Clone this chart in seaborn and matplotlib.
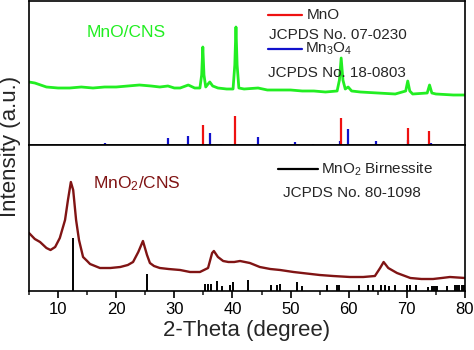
import numpy as np
import pandas as pd
import matplotlib
matplotlib.use("Agg")
import matplotlib.pyplot as plt
import seaborn as sns

# ---------------- data ----------------
mno_theta = [5, 6, 8, 10, 12, 14, 16, 18, 20, 22, 24, 26, 27.5, 28.9, 30, 31, 32.4, 33.5, 34.4,
             34.7, 34.9, 35.1, 35.4, 35.8, 36.1, 36.6, 37.5, 39, 40.1, 40.4, 40.6, 40.8, 41.1,
             42, 44.4, 46, 48, 50, 52, 54, 56, 58.0, 58.4, 58.7, 59.0, 59.4, 59.9, 60.5, 62, 65,
             68, 69.8, 70.15, 70.5, 71, 73.5, 73.9, 74.3, 75, 78, 80]
mno_int = [63, 62, 58, 57, 57, 58, 57, 58, 58, 59, 60, 59, 58, 59, 57, 57, 60, 57, 57,
           70, 98, 70, 58, 61, 63, 59, 57, 56, 56, 80, 118, 80, 57,
           56, 57, 55, 55, 55, 54, 54, 53, 54, 65, 87, 65, 56, 58, 54, 53, 52,
           51, 54, 64, 54, 51, 52, 60, 52, 51, 50, 50]

mno2_theta = [5, 6, 6.9, 8, 8.7, 9.5, 10.3, 11.2, 11.7, 12.2, 12.6, 13.1, 13.6, 14.3, 15.0,
              15.5, 17.2, 19, 20.7, 22.0, 22.9, 23.8, 24.6, 25.3, 25.8, 26.5, 27.5, 29, 31,
              32.7, 34.4, 35.8, 36.5, 36.8, 37.5, 38.4, 39.3, 40.3, 41.3, 43, 44.7, 46.5,
              48.2, 50.5, 52, 55, 57.3, 60.2, 62.5, 64.5, 65.4, 66.0, 66.8, 68.3, 70.6, 72.5,
              74.5, 76, 77.4, 80]
mno2_int = [58, 52, 49, 43, 41, 44, 53, 71, 91, 109, 101, 71, 51, 34, 30,
            27, 23, 23, 24, 26, 29, 39, 50, 36, 28, 25, 23, 22, 21,
            19, 19, 23, 38, 40, 34, 30, 29, 29, 30, 28, 24, 22,
            21, 19, 18, 16, 15, 14, 14, 15, 23, 29, 23, 18, 13, 12,
            12, 13, 14, 13]

ref_mno_pos = [34.9, 40.5, 58.7, 70.2, 73.8]
ref_mno_h = [20, 29, 27, 17, 14]

ref_mn3o4_pos = [18.0, 28.9, 32.4, 36.1, 38.1, 44.4, 50.8, 53.9, 58.5, 59.9, 64.7, 70.2, 74.1]
ref_mn3o4_h = [2, 7, 9, 12, 1, 8, 3, 1, 4, 16, 4, 5, 2]

ref_bir_pos = [12.5, 25.3, 35.3, 35.8, 36.3, 37.3, 38.2, 39.6, 40.1, 42.7, 46.6, 47.7, 48.1,
               51.1, 52.0, 56.3, 58.0, 58.4, 61.7, 63.4, 64.2, 65.6, 66.3, 67.0, 68.0, 70.0,
               70.6, 71.6, 73.7, 74.4, 74.7, 75.0, 75.2, 76.9, 78.3, 78.6, 79.0, 79.4, 79.8]
ref_bir_h = [53, 17, 7, 7, 7, 10, 5, 6, 9, 11, 6, 6, 7,
             9, 5, 6, 6, 6, 6, 6, 6, 6, 6, 5, 6, 6,
             6, 6, 4, 5, 5, 5, 5, 5, 6, 6, 6, 6, 6]

x_ticks = [10, 20, 30, 40, 50, 60, 70, 80]

# ---------------- style ----------------
sns.set_theme(style="white")
plt.rcParams['font.family'] = ['Liberation Sans', 'DejaVu Sans']
plt.rcParams['mathtext.fontset'] = 'custom'
plt.rcParams['mathtext.rm'] = 'Liberation Sans'
plt.rcParams['mathtext.it'] = 'Liberation Sans'
plt.rcParams['mathtext.default'] = 'regular'

GREEN = '#22EE22'
DARKRED = '#801414'
RED = '#EE1111'
BLUE = '#1111CC'

fig = plt.figure(figsize=(4.74, 3.5), dpi=100)
L, R = 29 / 474, 465 / 474
B = (350 - 291) / 350
M = (350 - 145) / 350
T = (350 - 1) / 350
ax_top = fig.add_axes([L, M, R - L, T - M])
ax_bot = fig.add_axes([L, B, R - L, M - B], sharex=ax_top)

df_top = pd.DataFrame({'theta': mno_theta, 'I': mno_int})
df_bot = pd.DataFrame({'theta': mno2_theta, 'I': mno2_int})

sns.lineplot(data=df_top, x='theta', y='I', ax=ax_top, color=GREEN, lw=2.0)
ax_top.vlines(ref_mn3o4_pos, 0, ref_mn3o4_h, colors=BLUE, lw=1.6)
ax_top.vlines(ref_mno_pos, 0, ref_mno_h, colors=RED, lw=1.6)

sns.lineplot(data=df_bot, x='theta', y='I', ax=ax_bot, color=DARKRED, lw=1.7)
ax_bot.vlines(ref_bir_pos, 0, ref_bir_h, colors='black', lw=1.4)

for ax in (ax_top, ax_bot):
    for s in ax.spines.values():
        s.set_color('black')
        s.set_linewidth(1.2)
    ax.set_ylabel('')
    ax.set_xlabel('')
    ax.set_yticks([])

ax_top.set_xlim(5, 80)
ax_top.set_ylim(0, 144)
ax_bot.set_ylim(0, 146)

ax_top.tick_params(axis='x', which='both', bottom=False, labelbottom=False)
ax_bot.set_xticks(x_ticks)
ax_bot.set_xticks([5, 15, 25, 35, 45, 55, 65, 75], minor=True)
ax_bot.tick_params(axis='x', which='major', direction='out', length=5, width=1.2,
                   bottom=True, labelsize=12, pad=3, colors='black')
ax_bot.tick_params(axis='x', which='minor', direction='out', length=3, width=1.2, bottom=True)
ax_bot.set_xlabel('2-Theta (degree)', fontsize=16, labelpad=2)
fig.text(0.022, (350 - 146) / 350, 'Intensity (a.u.)', rotation=90, fontsize=16,
         ha='center', va='center')

# annotations, top panel
ax_top.text(0.133, 0.778, 'MnO/CNS', color=GREEN, fontsize=12.5, transform=ax_top.transAxes,
            ha='left', va='center')
ax_top.plot([0.548, 0.626], [0.903, 0.903], color=RED, lw=1.6, transform=ax_top.transAxes)
ax_top.text(0.636, 0.903, 'MnO', fontsize=11, transform=ax_top.transAxes, ha='left', va='center')
ax_top.text(0.550, 0.764, 'JCPDS No. 07-0230', fontsize=11, transform=ax_top.transAxes,
            ha='left', va='center')
ax_top.plot([0.548, 0.626], [0.667, 0.667], color=BLUE, lw=1.6, transform=ax_top.transAxes)
ax_top.text(0.632, 0.665, 'Mn$_3$O$_4$', fontsize=11, transform=ax_top.transAxes,
            ha='left', va='center')
ax_top.text(0.548, 0.50, 'JCPDS No. 18-0803', fontsize=11, transform=ax_top.transAxes,
            ha='left', va='center')

# annotations, bottom panel
ax_bot.text(0.147, 0.735, 'MnO$_2$/CNS', color=DARKRED, fontsize=12.5, transform=ax_bot.transAxes,
            ha='left', va='center')
ax_bot.plot([0.571, 0.663], [0.836, 0.836], color='black', lw=1.6, transform=ax_bot.transAxes)
ax_bot.text(0.670, 0.836, 'MnO$_2$ Birnessite', fontsize=11, transform=ax_bot.transAxes,
            ha='left', va='center')
ax_bot.text(0.583, 0.671, 'JCPDS No. 80-1098', fontsize=11, transform=ax_bot.transAxes,
            ha='left', va='center')

fig.savefig('out.png', dpi=100)
